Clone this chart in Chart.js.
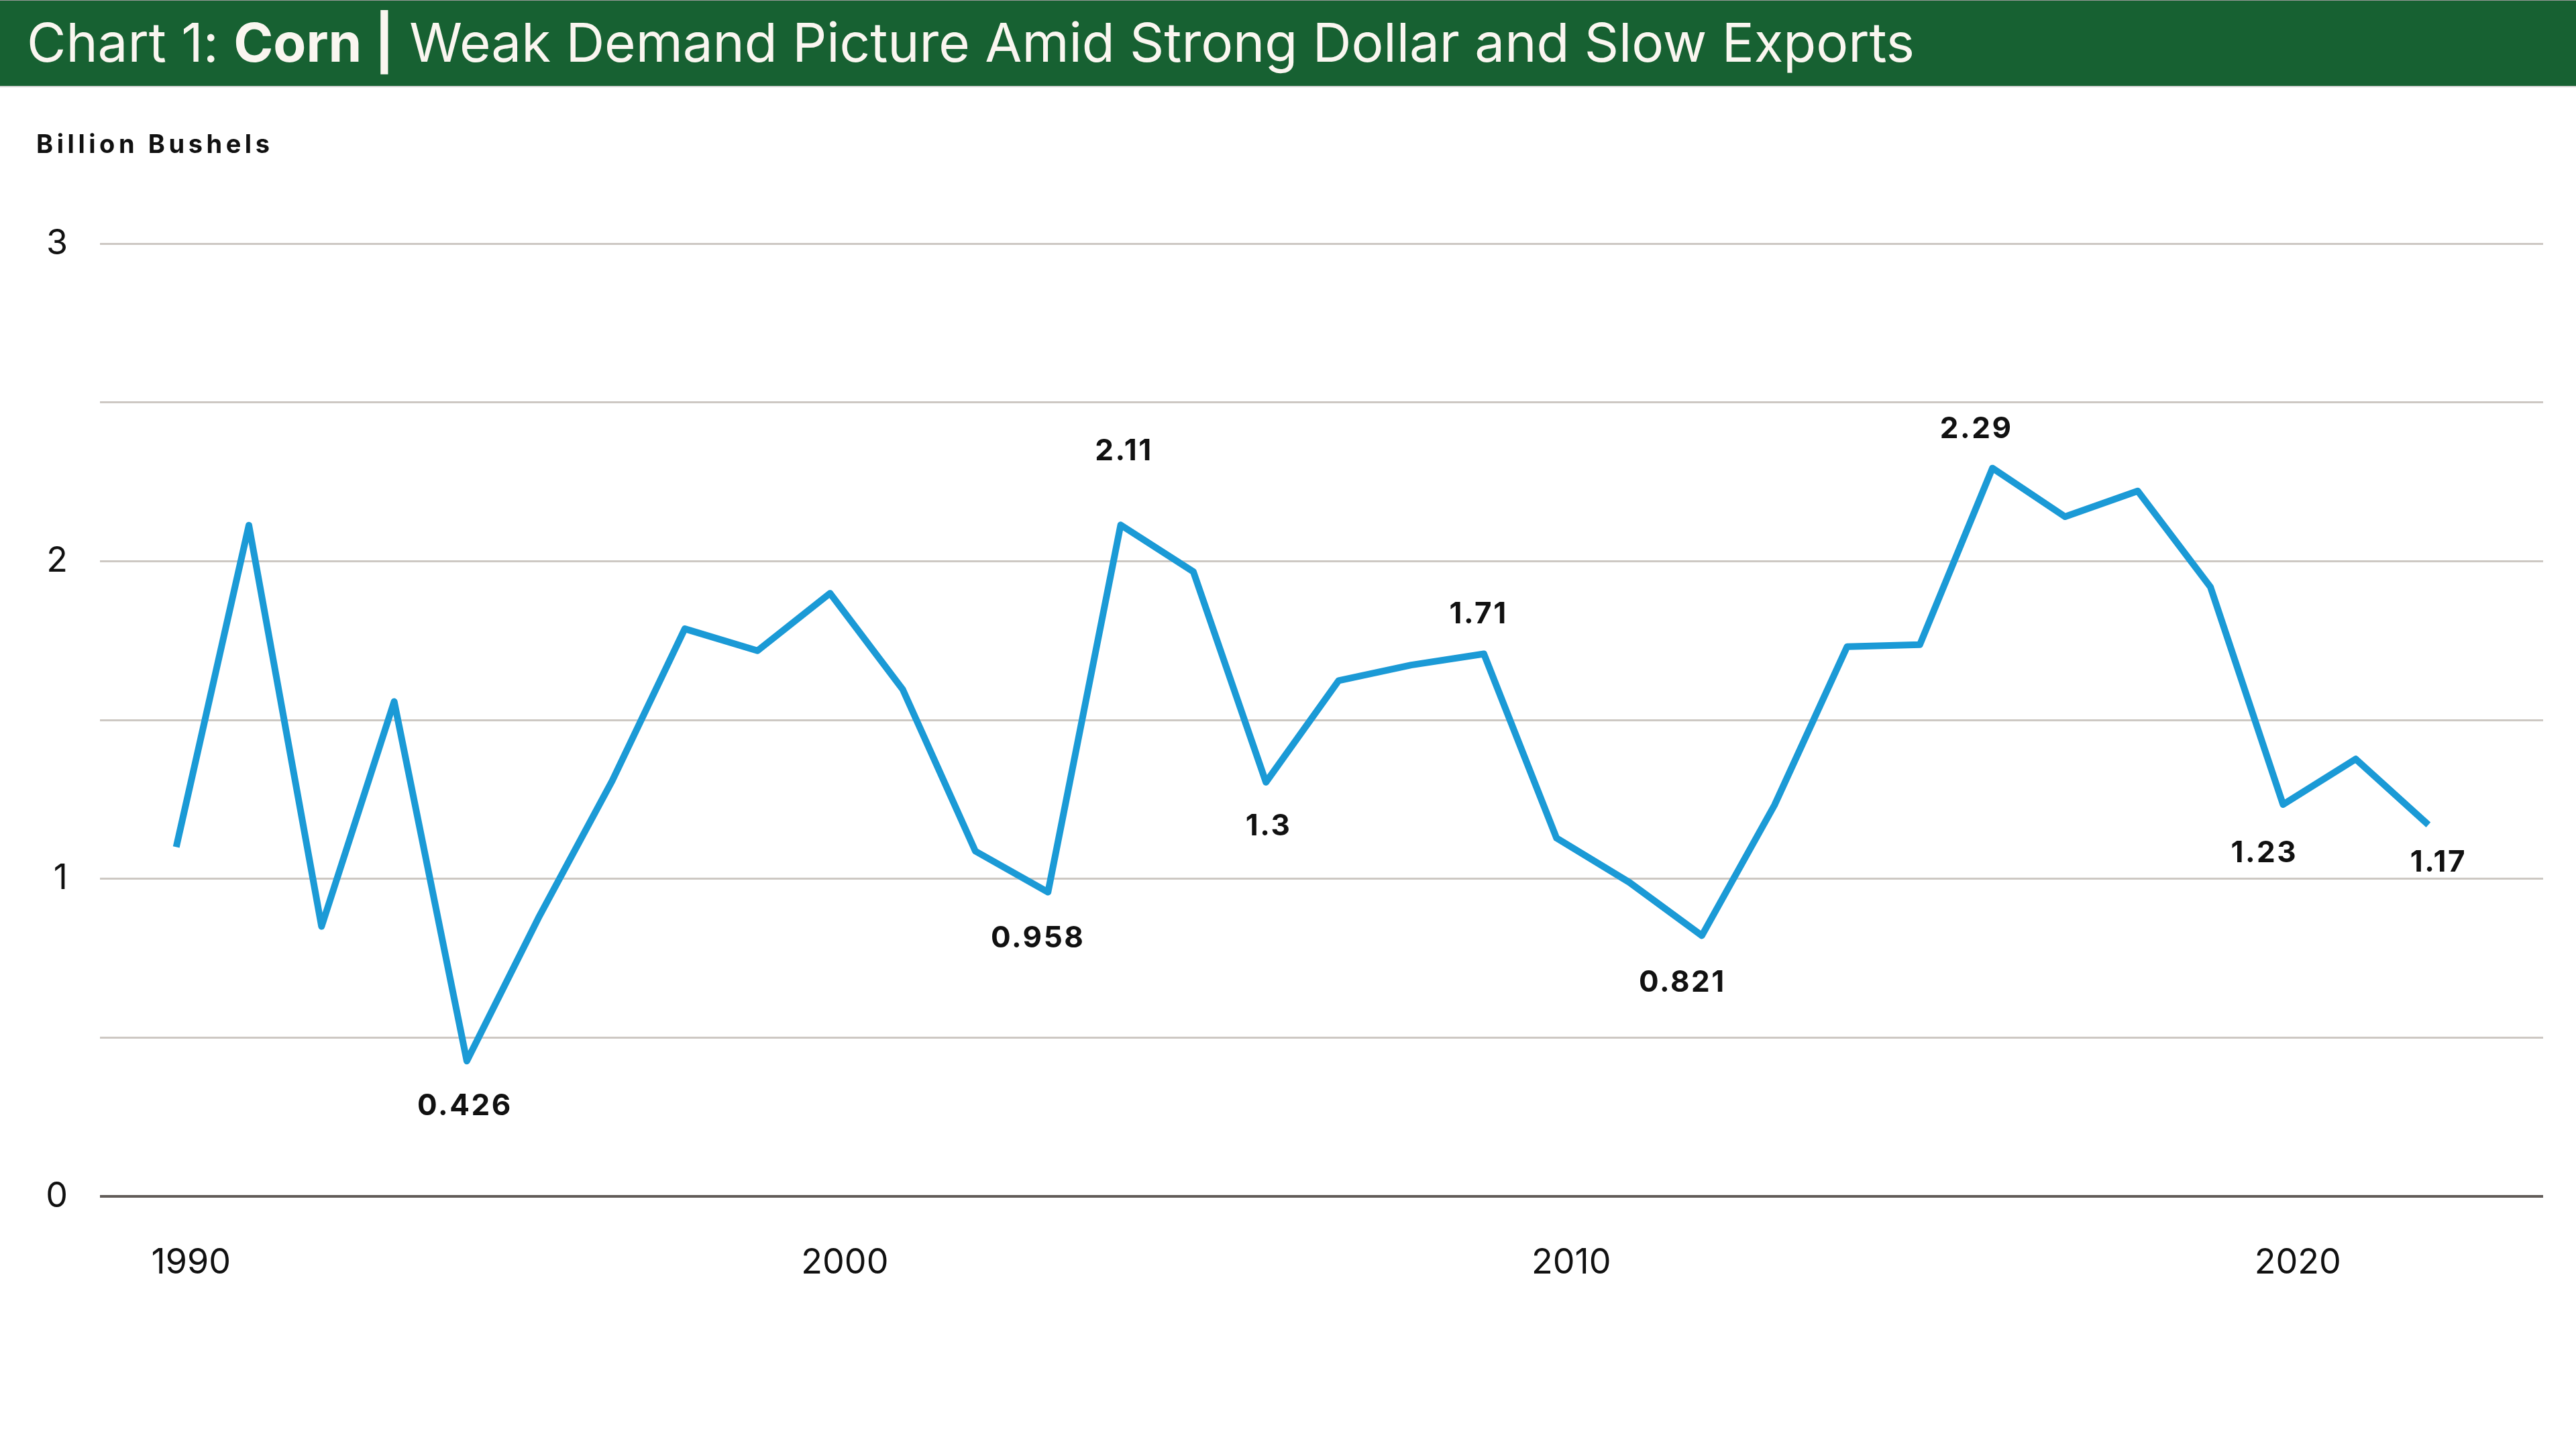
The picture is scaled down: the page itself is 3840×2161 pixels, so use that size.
<!DOCTYPE html>
<html>
<head>
<meta charset="utf-8">
<script src="https://cdn.jsdelivr.net/npm/chart.js@4.4.1/dist/chart.umd.min.js"></script>
<style>
  html, body { margin: 0; padding: 0; background: #ffffff; }
  #wrap { width: 3840px; height: 2161px; position: relative; }
  canvas { display: block; }
</style>
</head>
<body>
<div id="wrap"><canvas id="c" width="3840" height="2161"></canvas></div>
<script>
// ---- data ----
const years = [1991,1992,1993,1994,1995,1996,1997,1998,1999,2000,2001,2002,2003,2004,2005,2006,
               2007,2008,2009,2010,2011,2012,2013,2014,2015,2016,2017,2018,2019,2020,2021,2022];
const endingStocks = [1.100,2.113,0.850,1.558,0.426,0.883,1.308,1.787,1.718,1.899,1.596,1.087,0.958,2.114,1.967,1.304,
                      1.624,1.673,1.708,1.128,0.989,0.821,1.232,1.731,1.737,2.293,2.140,2.221,1.919,1.234,1.377,1.170];
const xTickYears = [1991, 2000, 2010, 2020];
const xTickLabels = ['1990', '2000', '2010', '2020'];
const yTickValues = [0, 1, 2, 3];
const titleParts = [
  { text: 'Chart 1: ', bold: false },
  { text: 'Corn |', bold: true },
  { text: ' Weak Demand Picture Amid Strong Dollar and Slow Exports', bold: false }
];
const yUnitLabel = 'Billion Bushels';
// which points carry a value label
const labelIndex = [4, 12, 13, 15, 18, 21, 25, 29, 31];

// ---- layout / style (not data) ----
const labelDx = [-3, -15, 5, 4, -8, -29, -24, -28, 15];
const labelDy = [65, 66, -112, 63, -62, 68, -61, 70, 54];
const FONT = 'Inter, "Noto Sans", sans-serif';

function fmt(v) { return String(parseFloat(v.toPrecision(3))); }

function drawSpaced(ctx, text, x, y, targetWidth) {
  ctx.letterSpacing = '0px';
  const w = ctx.measureText(text).width;
  const ls = (targetWidth - w) / Math.max(1, text.length - 1);
  ctx.letterSpacing = ls + 'px';
  ctx.fillText(text, x, y);
  ctx.letterSpacing = '0px';
  return ls;
}

const decor = {
  id: 'decor',
  beforeDraw(chart) {
    const ctx = chart.ctx;
    ctx.save();
    ctx.fillStyle = '#ffffff';
    ctx.fillRect(0, 0, chart.width, chart.height);
    // header bar
    ctx.fillStyle = '#176132';
    ctx.fillRect(0, 0, chart.width, 128);
    ctx.fillStyle = '#9a9a9a';
    ctx.fillRect(0, 0, chart.width, 1);
    ctx.fillStyle = '#d4d4d4';
    ctx.fillRect(0, 128, chart.width, 2);
    // title with mixed weights, fitted to width
    ctx.textBaseline = 'alphabetic';
    ctx.textAlign = 'left';
    ctx.fillStyle = '#faf6f0';
    let total = 0, chars = 0;
    titleParts.forEach(p => {
      ctx.font = (p.bold ? '700 ' : '400 ') + '80px ' + FONT;
      ctx.letterSpacing = '0px';
      total += ctx.measureText(p.text).width;
      chars += p.text.length;
    });
    const ls = (2814 - total) / (chars - 1);
    let x = 40;
    titleParts.forEach(p => {
      ctx.font = (p.bold ? '700 ' : '400 ') + '80px ' + FONT;
      ctx.letterSpacing = '0px';
      const w = ctx.measureText(p.text).width;
      ctx.letterSpacing = ls + 'px';
      ctx.fillText(p.text, x, 92);
      x += w + ls * p.text.length;
    });
    ctx.letterSpacing = '0px';
    // unit label
    ctx.fillStyle = '#111111';
    ctx.font = '700 38px ' + FONT;
    drawSpaced(ctx, yUnitLabel, 54, 228, 348);
    ctx.restore();
  },
  afterDatasetsDraw(chart) {
    const ctx = chart.ctx;
    const xs = chart.scales.x, ys = chart.scales.y;
    ctx.save();
    ctx.fillStyle = '#111111';
    ctx.font = '700 44px ' + FONT;
    ctx.textAlign = 'center';
    ctx.textBaseline = 'alphabetic';
    ctx.letterSpacing = '2.5px';
    labelIndex.forEach((i, k) => {
      const px = xs.getPixelForValue(years[i]) + labelDx[k];
      const py = ys.getPixelForValue(endingStocks[i]) + labelDy[k];
      ctx.fillText(fmt(endingStocks[i]), px, py + 16);
    });
    ctx.restore();
  }
};

new Chart(document.getElementById('c'), {
  type: 'line',
  data: {
    datasets: [{
      data: years.map((y, i) => ({ x: y, y: endingStocks[i] })),
      borderColor: '#1b9ad6',
      borderWidth: 10,
      pointRadius: 0,
      tension: 0,
      borderJoinStyle: 'round',
      borderCapStyle: 'butt',
      fill: false
    }]
  },
  options: {
    responsive: false,
    devicePixelRatio: 1,
    animation: false,
    layout: { padding: { left: 0, right: 49, top: 363, bottom: 0 } },
    plugins: { legend: { display: false }, tooltip: { enabled: false }, title: { display: false } },
    scales: {
      x: {
        type: 'linear',
        min: 1989.95,
        max: 2023.58,
        afterBuildTicks(scale) { scale.ticks = xTickYears.map(v => ({ value: v })); },
        afterFit(scale) { scale.height = 378; },
        grid: { display: false, drawTicks: false },
        border: { display: false },
        ticks: {
          autoSkip: false,
          maxRotation: 0,
          padding: 68,
          labelOffset: 22,
          color: '#111111',
          font: { family: FONT, size: 52, weight: '400' },
          callback(value, index) { return xTickLabels[index]; }
        }
      },
      y: {
        min: 0,
        max: 3,
        afterFit(scale) { scale.width = 149; },
        grid: {
          drawTicks: false,
          color: ctx => ctx.tick && ctx.tick.value === 0 ? '#615c58' : '#cdc8c3',
          lineWidth: ctx => ctx.tick && ctx.tick.value === 0 ? 4 : 3
        },
        border: { display: false },
        ticks: {
          stepSize: 0.5,
          padding: 48,
          color: '#111111',
          font: { family: FONT, size: 52, weight: '400' },
          callback(value) { return yTickValues.includes(value) ? String(value) : ''; }
        }
      }
    }
  },
  plugins: [decor]
});
</script>
</body>
</html>
